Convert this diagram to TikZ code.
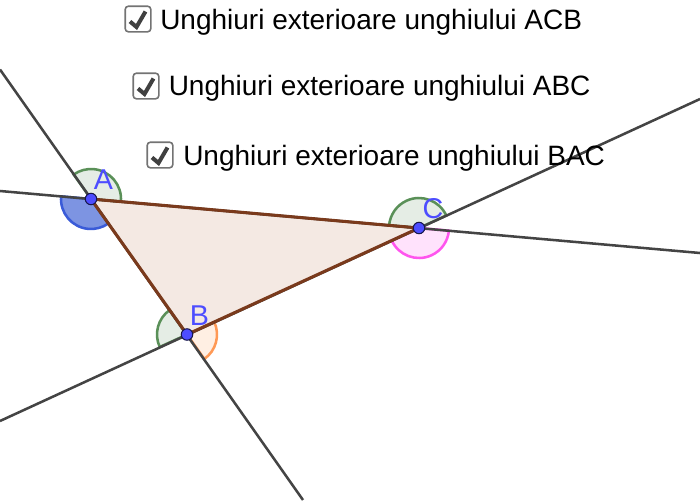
\documentclass[tikz,border=0pt]{standalone}
\usepackage{fontspec}
\setmainfont{Liberation Sans}
\definecolor{lineg}{HTML}{444444}
\definecolor{triedge}{HTML}{7A3A1C}
\definecolor{trifill}{HTML}{F4E9E3}
\definecolor{greenedge}{HTML}{5A9058}
\definecolor{greenfill}{HTML}{E5EDE5}
\definecolor{blueedge}{HTML}{3A5BD8}
\definecolor{bluefill}{HTML}{7D94E2}
\definecolor{pinkedge}{HTML}{FF55EE}
\definecolor{pinkfill}{HTML}{FFE2FC}
\definecolor{orangeedge}{HTML}{FF9955}
\definecolor{orangefill}{HTML}{FFEFE3}
\definecolor{ptblue}{HTML}{4D4DFF}
\tikzset{
  x=0.75pt,y=-0.75pt,
  extline/.style={draw=lineg,line width=1.9pt},
  triside/.style={draw=triedge,line width=2.3pt},
  trishade/.style={fill=trifill},
  greensec/.style={draw=greenedge,fill=greenfill,line width=1.9pt},
  bluesec/.style={draw=blueedge,fill=bluefill,line width=1.9pt},
  pinksec/.style={draw=pinkedge,fill=pinkfill,line width=1.9pt},
  orangesec/.style={draw=orangeedge,fill=orangefill,line width=1.9pt},
  ptnode/.style={circle,fill=ptblue,draw=black!70!ptblue,line width=0.8pt,inner sep=0pt,minimum size=8.6pt},
  ptlabel/.style={text=ptblue,font=\fontsize{21.5}{21.5}\selectfont,inner sep=0pt},
  rowlabel/.style={anchor=base west,inner sep=0pt,font=\fontsize{21}{25}\selectfont,text=black},
  checkbox/.style={draw=black!55,fill=white,rounded corners=2.4pt,line width=1.2pt,minimum size=19.2pt,inner sep=0pt},
  checkmark/.style={draw=black!75,line width=3pt,line cap=butt,line join=miter},
}
\begin{document}
\begin{tikzpicture}
\useasboundingbox (0,0) rectangle (700,500);
\clip (0,0) rectangle (700,500);
\def\rad{22.5pt}
\coordinate (a) at (91,199);
\coordinate (b) at (187,334.5);
\coordinate (c) at (419,228);
\coordinate (abEndA) at (0,69.5);
\coordinate (abEndB) at (303,500);
\coordinate (acEndA) at (0,191);
\coordinate (acEndC) at (700,253);
\coordinate (bcEndB) at (0,421);
\coordinate (bcEndC) at (700,99);
\fill[trishade] (a) -- (b) -- (c) -- cycle;
\draw[greensec] (a) -- ++(-5.06:\rad) arc[start angle=-5.06,end angle=125.3,radius=\rad] -- cycle;
\draw[bluesec] (a) -- ++(174.94:\rad) arc[start angle=174.94,end angle=305.3,radius=\rad] -- cycle;
\draw[greensec] (c) -- ++(24.6:\rad) arc[start angle=24.6,end angle=174.94,radius=\rad] -- cycle;
\draw[pinksec] (c) -- ++(204.6:\rad) arc[start angle=204.6,end angle=354.94,radius=\rad] -- cycle;
\draw[greensec] (b) -- ++(125.3:\rad) arc[start angle=125.3,end angle=204.6,radius=\rad] -- cycle;
\draw[orangesec] (b) -- ++(-54.7:\rad) arc[start angle=-54.7,end angle=24.6,radius=\rad] -- cycle;
\draw[extline] (abEndA) -- (abEndB);
\draw[extline] (acEndA) -- (acEndC);
\draw[extline] (bcEndB) -- (bcEndC);
\draw[triside] (a) -- (b);
\draw[triside] (b) -- (c);
\draw[triside] (c) -- (a);
\node[ptnode] (A) at (a) {};
\node[ptnode] (B) at (b) {};
\node[ptnode] (C) at (c) {};
\node[ptlabel] (labA) at (103.5,179.5) {A};
\node[ptlabel] (labB) at (199.5,315.5) {B};
\node[ptlabel] (labC) at (433,208.5) {C};
\node[checkbox] (box1) at (138,19) {};
\draw[checkmark] (130,21.5) -- (136.5,27) -- (145.5,11.5);
\node[rowlabel] (row1) at (160,29) {Unghiuri exterioare unghiului ACB};
\node[checkbox] (box2) at (146,86) {};
\draw[checkmark] (138,88.5) -- (144.5,94) -- (153.5,78.5);
\node[rowlabel] (row2) at (168.5,95) {Unghiuri exterioare unghiului ABC};
\node[checkbox] (box3) at (160,155) {};
\draw[checkmark] (152,157.5) -- (158.5,163) -- (167.5,147.5);
\node[rowlabel] (row3) at (183,165) {Unghiuri exterioare unghiului BAC};
\end{tikzpicture}
\end{document}
